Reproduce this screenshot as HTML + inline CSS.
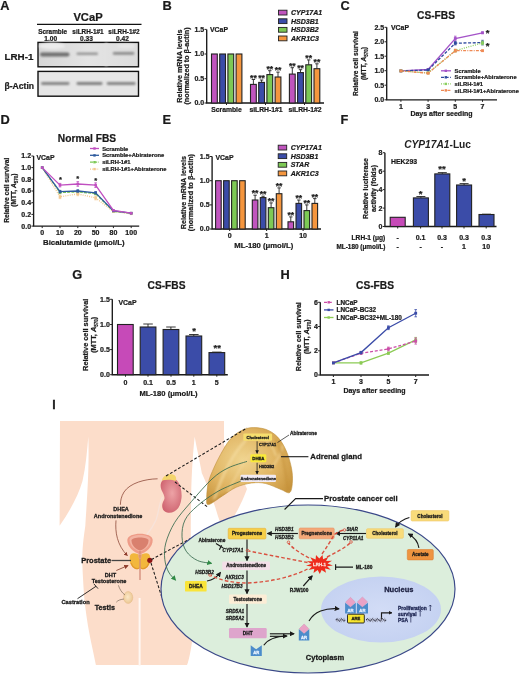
<!DOCTYPE html>
<html><head><meta charset="utf-8"><title>Figure</title>
<style>
html,body{margin:0;padding:0;background:#fff;}
svg{display:block;}
text{font-family:"Liberation Sans",Arial,sans-serif;}
</style></head><body>
<svg width="520" height="678" viewBox="0 0 520 678">
<rect width="520" height="678" fill="#fff"/>
<text x="0.3" y="9.6" font-size="12.8" text-anchor="start" font-weight="bold" fill="#1a1a1a" stroke="#1a1a1a" stroke-width="0.22">A</text><text x="88.0" y="21.3" font-size="11.2" text-anchor="middle" font-weight="bold" fill="#1a1a1a" stroke="#1a1a1a" stroke-width="0.22">VCaP</text><path d="M37,24.3 H141.5" stroke="#111" stroke-width="1.3"/><text x="52.7" y="34.0" font-size="6.4" text-anchor="middle" font-weight="bold" fill="#1a1a1a" stroke="#1a1a1a" stroke-width="0.22">Scramble</text><text x="50.7" y="40.9" font-size="6.6" text-anchor="middle" font-weight="bold" fill="#1a1a1a" stroke="#1a1a1a" stroke-width="0.22">1.00</text><text x="88.0" y="34.0" font-size="6.4" text-anchor="middle" font-weight="bold" fill="#1a1a1a" stroke="#1a1a1a" stroke-width="0.22">siLRH-1#1</text><text x="86.5" y="40.9" font-size="6.6" text-anchor="middle" font-weight="bold" fill="#1a1a1a" stroke="#1a1a1a" stroke-width="0.22">0.33</text><text x="124.0" y="34.0" font-size="6.4" text-anchor="middle" font-weight="bold" fill="#1a1a1a" stroke="#1a1a1a" stroke-width="0.22">siLRH-1#2</text><text x="122.5" y="40.9" font-size="6.6" text-anchor="middle" font-weight="bold" fill="#1a1a1a" stroke="#1a1a1a" stroke-width="0.22">0.42</text><defs><linearGradient id="bl1" x1="0" x2="1" y1="0" y2="0"><stop offset="0" stop-color="#d6d6d6"/><stop offset="0.5" stop-color="#e4e4e4"/><stop offset="1" stop-color="#dcdcdc"/></linearGradient><filter id="blur1" x="-10%" y="-50%" width="120%" height="200%"><feGaussianBlur stdDeviation="0.85"/></filter></defs><rect x="38" y="42.4" width="100.5" height="24.4" fill="url(#bl1)" stroke="#111" stroke-width="1.4"/><rect x="38" y="71.4" width="100.5" height="24.8" fill="#e5e5e5" stroke="#111" stroke-width="1.4"/><g filter="url(#blur1)"><rect x="40" y="52.6" width="29.5" height="3.8" rx="1.8" fill="#6e6e6e"/><rect x="76.5" y="52.4" width="21.5" height="2.6" rx="1.2" fill="#959595"/><rect x="112.8" y="51.9" width="21.5" height="2.8" rx="1.3" fill="#8a8a8a"/><rect x="41" y="82" width="28.5" height="3" rx="1.4" fill="#858585"/><rect x="76.5" y="82" width="26" height="3" rx="1.4" fill="#808080"/><rect x="106.7" y="82" width="29" height="3" rx="1.4" fill="#858585"/><ellipse cx="52" cy="46" rx="13" ry="3.2" fill="#ececec"/><ellipse cx="126" cy="46" rx="9" ry="2" fill="#e8e8e8"/><rect x="105" y="43" width="2.5" height="23" fill="#e2e2e2"/></g><text x="4.5" y="59.5" font-size="9.8" text-anchor="start" font-weight="bold" fill="#1a1a1a" stroke="#1a1a1a" stroke-width="0.22">LRH-1</text><text x="4.5" y="88.5" font-size="8.6" text-anchor="start" font-weight="bold" fill="#1a1a1a" stroke="#1a1a1a" stroke-width="0.22">β-Actin</text>
<text x="162.6" y="9.7" font-size="12.8" text-anchor="start" font-weight="bold" fill="#1a1a1a" stroke="#1a1a1a" stroke-width="0.22">B</text><path d="M206.7,29.4 V103 H324" fill="none" stroke="#1a1a1a" stroke-width="1.35"/><path d="M204.5,29.4 H206.7" stroke="#222" stroke-width="1"/><text x="204.2" y="31.8" font-size="7" text-anchor="end" font-weight="bold" fill="#1a1a1a" stroke="#1a1a1a" stroke-width="0.22">1.5</text><path d="M204.5,54.0 H206.7" stroke="#222" stroke-width="1"/><text x="204.2" y="56.4" font-size="7" text-anchor="end" font-weight="bold" fill="#1a1a1a" stroke="#1a1a1a" stroke-width="0.22">1.0</text><path d="M204.5,78.7 H206.7" stroke="#222" stroke-width="1"/><text x="204.2" y="81.1" font-size="7" text-anchor="end" font-weight="bold" fill="#1a1a1a" stroke="#1a1a1a" stroke-width="0.22">0.5</text><path d="M204.5,103.0 H206.7" stroke="#222" stroke-width="1"/><text x="204.2" y="105.4" font-size="7" text-anchor="end" font-weight="bold" fill="#1a1a1a" stroke="#1a1a1a" stroke-width="0.22">0.0</text><text transform="translate(182.0,66.0) rotate(-90)" font-size="7.2" text-anchor="middle" font-weight="bold" fill="#1a1a1a" stroke="#1a1a1a" stroke-width="0.22">Relative mRNA levels</text><text transform="translate(189.0,66.0) rotate(-90)" font-size="7.2" text-anchor="middle" font-weight="bold" fill="#1a1a1a" stroke="#1a1a1a" stroke-width="0.22">(normalized to β-actin)</text><text x="210.0" y="32.0" font-size="6.9" text-anchor="start" font-weight="bold" fill="#1a1a1a" stroke="#1a1a1a" stroke-width="0.22">VCaP</text><rect x="211.5" y="54.0" width="5.8" height="49.0" fill="#C055BE" stroke="#222" stroke-width="1.1"/><rect x="219.7" y="54.0" width="5.8" height="49.0" fill="#3B4CA8" stroke="#222" stroke-width="1.1"/><rect x="227.9" y="54.0" width="5.8" height="49.0" fill="#7DC955" stroke="#222" stroke-width="1.1"/><rect x="236.1" y="54.0" width="5.8" height="49.0" fill="#F5963E" stroke="#222" stroke-width="1.1"/><path d="M253.4,84.4 V79.5 M251.7,79.5 H255.1" stroke="#222" stroke-width="0.9" fill="none"/><rect x="250.5" y="84.4" width="5.8" height="18.6" fill="#C055BE" stroke="#222" stroke-width="1.1"/><text x="253.4" y="80.5" font-size="8.6" text-anchor="middle" font-weight="bold" fill="#1a1a1a" stroke="#1a1a1a" stroke-width="0.22">**</text><path d="M261.6,82.4 V80.0 M259.9,80.0 H263.3" stroke="#222" stroke-width="0.9" fill="none"/><rect x="258.7" y="82.4" width="5.8" height="20.6" fill="#3B4CA8" stroke="#222" stroke-width="1.1"/><text x="261.6" y="81.0" font-size="8.6" text-anchor="middle" font-weight="bold" fill="#1a1a1a" stroke="#1a1a1a" stroke-width="0.22">**</text><path d="M269.8,74.6 V70.7 M268.1,70.7 H271.5" stroke="#222" stroke-width="0.9" fill="none"/><rect x="266.9" y="74.6" width="5.8" height="28.4" fill="#7DC955" stroke="#222" stroke-width="1.1"/><text x="269.8" y="71.7" font-size="8.6" text-anchor="middle" font-weight="bold" fill="#1a1a1a" stroke="#1a1a1a" stroke-width="0.22">**</text><path d="M278.0,77.0 V72.1 M276.3,72.1 H279.7" stroke="#222" stroke-width="0.9" fill="none"/><rect x="275.1" y="77.0" width="5.8" height="26.0" fill="#F5963E" stroke="#222" stroke-width="1.1"/><text x="278.0" y="73.1" font-size="8.6" text-anchor="middle" font-weight="bold" fill="#1a1a1a" stroke="#1a1a1a" stroke-width="0.22">**</text><path d="M292.3,74.1 V67.7 M290.6,67.7 H294.0" stroke="#222" stroke-width="0.9" fill="none"/><rect x="289.4" y="74.1" width="5.8" height="28.9" fill="#C055BE" stroke="#222" stroke-width="1.1"/><text x="292.3" y="68.7" font-size="8.6" text-anchor="middle" font-weight="bold" fill="#1a1a1a" stroke="#1a1a1a" stroke-width="0.22">**</text><path d="M300.5,72.6 V69.7 M298.8,69.7 H302.2" stroke="#222" stroke-width="0.9" fill="none"/><rect x="297.6" y="72.6" width="5.8" height="30.4" fill="#3B4CA8" stroke="#222" stroke-width="1.1"/><text x="300.5" y="70.7" font-size="8.6" text-anchor="middle" font-weight="bold" fill="#1a1a1a" stroke="#1a1a1a" stroke-width="0.22">**</text><path d="M308.7,64.8 V59.9 M307.0,59.9 H310.4" stroke="#222" stroke-width="0.9" fill="none"/><rect x="305.8" y="64.8" width="5.8" height="38.2" fill="#7DC955" stroke="#222" stroke-width="1.1"/><text x="308.7" y="60.9" font-size="8.6" text-anchor="middle" font-weight="bold" fill="#1a1a1a" stroke="#1a1a1a" stroke-width="0.22">**</text><path d="M316.9,68.7 V63.8 M315.2,63.8 H318.6" stroke="#222" stroke-width="0.9" fill="none"/><rect x="314.0" y="68.7" width="5.8" height="34.3" fill="#F5963E" stroke="#222" stroke-width="1.1"/><text x="316.9" y="64.8" font-size="8.6" text-anchor="middle" font-weight="bold" fill="#1a1a1a" stroke="#1a1a1a" stroke-width="0.22">**</text><path d="M226.5,103 V105" stroke="#222" stroke-width="1"/><path d="M265.5,103 V105" stroke="#222" stroke-width="1"/><path d="M304.5,103 V105" stroke="#222" stroke-width="1"/><text x="226.5" y="111.5" font-size="6.8" text-anchor="middle" font-weight="bold" fill="#1a1a1a" stroke="#1a1a1a" stroke-width="0.22">Scramble</text><text x="266.0" y="111.5" font-size="6.8" text-anchor="middle" font-weight="bold" fill="#1a1a1a" stroke="#1a1a1a" stroke-width="0.22">siLRH-1#1</text><text x="305.0" y="111.5" font-size="6.8" text-anchor="middle" font-weight="bold" fill="#1a1a1a" stroke="#1a1a1a" stroke-width="0.22">siLRH-1#2</text><rect x="278.5" y="10.2" width="8.5" height="4.8" fill="#C055BE" stroke="#222" stroke-width="0.9"/><text x="291.0" y="15.1" font-size="7" text-anchor="start" font-weight="bold" font-style="italic" fill="#1a1a1a" stroke="#1a1a1a" stroke-width="0.22">CYP17A1</text><rect x="278.5" y="18.8" width="8.5" height="4.8" fill="#3B4CA8" stroke="#222" stroke-width="0.9"/><text x="291.0" y="23.7" font-size="7" text-anchor="start" font-weight="bold" font-style="italic" fill="#1a1a1a" stroke="#1a1a1a" stroke-width="0.22">HSD3B1</text><rect x="278.5" y="27.4" width="8.5" height="4.8" fill="#7DC955" stroke="#222" stroke-width="0.9"/><text x="291.0" y="32.3" font-size="7" text-anchor="start" font-weight="bold" font-style="italic" fill="#1a1a1a" stroke="#1a1a1a" stroke-width="0.22">HSD3B2</text><rect x="278.5" y="36.0" width="8.5" height="4.8" fill="#F5963E" stroke="#222" stroke-width="0.9"/><text x="291.0" y="40.9" font-size="7" text-anchor="start" font-weight="bold" font-style="italic" fill="#1a1a1a" stroke="#1a1a1a" stroke-width="0.22">AKR1C3</text>
<text x="340.6" y="9.7" font-size="12.8" text-anchor="start" font-weight="bold" fill="#1a1a1a" stroke="#1a1a1a" stroke-width="0.22">C</text><text x="436.0" y="18.5" font-size="10.2" text-anchor="middle" font-weight="bold" fill="#1a1a1a" stroke="#1a1a1a" stroke-width="0.22">CS-FBS</text><path d="M386.7,27.3 V99.8 H497" fill="none" stroke="#1a1a1a" stroke-width="1.35"/><path d="M384.5,27.3 H386.7" stroke="#222" stroke-width="1"/><text x="384.2" y="29.7" font-size="7" text-anchor="end" font-weight="bold" fill="#1a1a1a" stroke="#1a1a1a" stroke-width="0.22">2.5</text><path d="M384.5,41.8 H386.7" stroke="#222" stroke-width="1"/><text x="384.2" y="44.2" font-size="7" text-anchor="end" font-weight="bold" fill="#1a1a1a" stroke="#1a1a1a" stroke-width="0.22">2.0</text><path d="M384.5,56.2 H386.7" stroke="#222" stroke-width="1"/><text x="384.2" y="58.6" font-size="7" text-anchor="end" font-weight="bold" fill="#1a1a1a" stroke="#1a1a1a" stroke-width="0.22">1.5</text><path d="M384.5,70.7 H386.7" stroke="#222" stroke-width="1"/><text x="384.2" y="73.1" font-size="7" text-anchor="end" font-weight="bold" fill="#1a1a1a" stroke="#1a1a1a" stroke-width="0.22">1.0</text><path d="M384.5,85.2 H386.7" stroke="#222" stroke-width="1"/><text x="384.2" y="87.6" font-size="7" text-anchor="end" font-weight="bold" fill="#1a1a1a" stroke="#1a1a1a" stroke-width="0.22">0.5</text><path d="M384.5,99.8 H386.7" stroke="#222" stroke-width="1"/><text x="384.2" y="102.2" font-size="7" text-anchor="end" font-weight="bold" fill="#1a1a1a" stroke="#1a1a1a" stroke-width="0.22">0.0</text><text transform="translate(358.0,63.5) rotate(-90)" font-size="6.6" text-anchor="middle" font-weight="bold" fill="#1a1a1a" stroke="#1a1a1a" stroke-width="0.22">Relative cell survival</text><text transform="translate(366.2,63.5) rotate(-90)" font-size="6.6" text-anchor="middle" font-weight="bold" fill="#1a1a1a" stroke="#1a1a1a" stroke-width="0.22">(MTT, <tspan font-style="italic">A</tspan><tspan font-size="4.5" dy="1.5">570</tspan><tspan dy="-1.5">)</tspan></text><text x="391.0" y="30.0" font-size="6.9" text-anchor="start" font-weight="bold" fill="#1a1a1a" stroke="#1a1a1a" stroke-width="0.22">VCaP</text><path d="M400.9,99.8 V101.8" stroke="#222" stroke-width="1"/><text x="400.9" y="108.8" font-size="7" text-anchor="middle" font-weight="bold" fill="#1a1a1a" stroke="#1a1a1a" stroke-width="0.22">1</text><path d="M428.1,99.8 V101.8" stroke="#222" stroke-width="1"/><text x="428.1" y="108.8" font-size="7" text-anchor="middle" font-weight="bold" fill="#1a1a1a" stroke="#1a1a1a" stroke-width="0.22">3</text><path d="M455.3,99.8 V101.8" stroke="#222" stroke-width="1"/><text x="455.3" y="108.8" font-size="7" text-anchor="middle" font-weight="bold" fill="#1a1a1a" stroke="#1a1a1a" stroke-width="0.22">5</text><path d="M482.5,99.8 V101.8" stroke="#222" stroke-width="1"/><text x="482.5" y="108.8" font-size="7" text-anchor="middle" font-weight="bold" fill="#1a1a1a" stroke="#1a1a1a" stroke-width="0.22">7</text><text x="441.5" y="115.5" font-size="7" text-anchor="middle" font-weight="bold" fill="#1a1a1a" stroke="#1a1a1a" stroke-width="0.22">Days after seeding</text><polyline points="400.9,70.9 428.1,69.5 455.3,38.5 482.5,32.8" fill="none" stroke="#A453C8" stroke-width="1.3"/><rect x="399.5" y="69.5" width="2.8" height="2.8" fill="#A453C8"/><rect x="426.7" y="68.1" width="2.8" height="2.8" fill="#A453C8"/><path d="M428.1,68.6 V70.3 M426.8,68.6 h2.6 M426.8,70.3 h2.6" stroke="#A453C8" stroke-width="0.8"/><rect x="453.9" y="37.1" width="2.8" height="2.8" fill="#A453C8"/><path d="M455.3,36.2 V40.8 M454.0,36.2 h2.6 M454.0,40.8 h2.6" stroke="#A453C8" stroke-width="0.8"/><rect x="481.1" y="31.4" width="2.8" height="2.8" fill="#A453C8"/><path d="M482.5,31.9 V33.6 M481.2,31.9 h2.6 M481.2,33.6 h2.6" stroke="#A453C8" stroke-width="0.8"/><polyline points="400.9,70.9 428.1,70.0 455.3,43.2 482.5,42.6" fill="none" stroke="#2E4A9E" stroke-width="1.3" stroke-dasharray="3,1.6"/><rect x="399.5" y="69.5" width="2.8" height="2.8" fill="#2E4A9E"/><rect x="426.7" y="68.6" width="2.8" height="2.8" fill="#2E4A9E"/><path d="M428.1,69.5 V70.6 M426.8,69.5 h2.6 M426.8,70.6 h2.6" stroke="#2E4A9E" stroke-width="0.8"/><rect x="453.9" y="41.8" width="2.8" height="2.8" fill="#2E4A9E"/><path d="M455.3,41.4 V44.9 M454.0,41.4 h2.6 M454.0,44.9 h2.6" stroke="#2E4A9E" stroke-width="0.8"/><rect x="481.1" y="41.2" width="2.8" height="2.8" fill="#2E4A9E"/><path d="M482.5,40.3 V44.9 M481.2,40.3 h2.6 M481.2,44.9 h2.6" stroke="#2E4A9E" stroke-width="0.8"/><polyline points="400.9,70.9 428.1,72.9 455.3,50.7 482.5,42.9" fill="none" stroke="#8CD060" stroke-width="1.3" stroke-dasharray="1,1.3"/><rect x="399.5" y="69.5" width="2.8" height="2.8" fill="#8CD060"/><rect x="426.7" y="71.5" width="2.8" height="2.8" fill="#8CD060"/><path d="M428.1,72.3 V73.5 M426.8,72.3 h2.6 M426.8,73.5 h2.6" stroke="#8CD060" stroke-width="0.8"/><rect x="453.9" y="49.3" width="2.8" height="2.8" fill="#8CD060"/><path d="M455.3,49.5 V51.8 M454.0,49.5 h2.6 M454.0,51.8 h2.6" stroke="#8CD060" stroke-width="0.8"/><rect x="481.1" y="41.5" width="2.8" height="2.8" fill="#8CD060"/><path d="M482.5,41.1 V44.6 M481.2,41.1 h2.6 M481.2,44.6 h2.6" stroke="#8CD060" stroke-width="0.8"/><polyline points="400.9,70.9 428.1,73.2 455.3,50.7 482.5,50.7" fill="none" stroke="#EF8A55" stroke-width="1.3" stroke-dasharray="3,1.2,1,1.2"/><rect x="399.5" y="69.5" width="2.8" height="2.8" fill="#EF8A55"/><rect x="426.7" y="71.8" width="2.8" height="2.8" fill="#EF8A55"/><path d="M428.1,72.6 V73.8 M426.8,72.6 h2.6 M426.8,73.8 h2.6" stroke="#EF8A55" stroke-width="0.8"/><rect x="453.9" y="49.3" width="2.8" height="2.8" fill="#EF8A55"/><path d="M455.3,49.2 V52.1 M454.0,49.2 h2.6 M454.0,52.1 h2.6" stroke="#EF8A55" stroke-width="0.8"/><rect x="481.1" y="49.3" width="2.8" height="2.8" fill="#EF8A55"/><path d="M482.5,50.1 V51.2 M481.2,50.1 h2.6 M481.2,51.2 h2.6" stroke="#EF8A55" stroke-width="0.8"/><text x="487.6" y="35.9" font-size="9.5" text-anchor="middle" font-weight="bold" fill="#1a1a1a" stroke="#1a1a1a" stroke-width="0.22">*</text><text x="487.6" y="48.8" font-size="9.5" text-anchor="middle" font-weight="bold" fill="#1a1a1a" stroke="#1a1a1a" stroke-width="0.22">*</text><path d="M441,70.8 H451" stroke="#A453C8" stroke-width="1.3"/><rect x="444.6" y="69.6" width="2.4" height="2.4" fill="#A453C8"/><text x="454.6" y="72.9" font-size="5.8" text-anchor="start" font-weight="bold" fill="#1a1a1a" stroke="#1a1a1a" stroke-width="0.22">Scramble</text><path d="M441,77.3 H451" stroke="#2E4A9E" stroke-width="1.3" stroke-dasharray="3,1.6"/><rect x="444.6" y="76.1" width="2.4" height="2.4" fill="#2E4A9E"/><text x="454.6" y="79.4" font-size="5.8" text-anchor="start" font-weight="bold" fill="#1a1a1a" stroke="#1a1a1a" stroke-width="0.22">Scramble+Abiraterone</text><path d="M441,83.9 H451" stroke="#8CD060" stroke-width="1.3" stroke-dasharray="1,1.3"/><rect x="444.6" y="82.7" width="2.4" height="2.4" fill="#8CD060"/><text x="454.6" y="86.0" font-size="5.8" text-anchor="start" font-weight="bold" fill="#1a1a1a" stroke="#1a1a1a" stroke-width="0.22">siLRH-1#1</text><path d="M441,90.4 H451" stroke="#EF8A55" stroke-width="1.3" stroke-dasharray="3,1.2,1,1.2"/><rect x="444.6" y="89.2" width="2.4" height="2.4" fill="#EF8A55"/><text x="454.6" y="92.5" font-size="5.8" text-anchor="start" font-weight="bold" fill="#1a1a1a" stroke="#1a1a1a" stroke-width="0.22">siLRH-1#1+Abiraterone</text>
<text x="0.6" y="124.4" font-size="12.8" text-anchor="start" font-weight="bold" fill="#1a1a1a" stroke="#1a1a1a" stroke-width="0.22">D</text><text x="87.0" y="142.0" font-size="10.2" text-anchor="middle" font-weight="bold" fill="#1a1a1a" stroke="#1a1a1a" stroke-width="0.22">Normal FBS</text><path d="M33.6,156 V226.1 H139.2" fill="none" stroke="#1a1a1a" stroke-width="1.35"/><path d="M31.400000000000002,156.0 H33.6" stroke="#222" stroke-width="1"/><text x="31.1" y="158.4" font-size="7" text-anchor="end" font-weight="bold" fill="#1a1a1a" stroke="#1a1a1a" stroke-width="0.22">1.2</text><path d="M31.400000000000002,167.6 H33.6" stroke="#222" stroke-width="1"/><text x="31.1" y="170.0" font-size="7" text-anchor="end" font-weight="bold" fill="#1a1a1a" stroke="#1a1a1a" stroke-width="0.22">1.0</text><path d="M31.400000000000002,179.3 H33.6" stroke="#222" stroke-width="1"/><text x="31.1" y="181.7" font-size="7" text-anchor="end" font-weight="bold" fill="#1a1a1a" stroke="#1a1a1a" stroke-width="0.22">0.8</text><path d="M31.400000000000002,191.0 H33.6" stroke="#222" stroke-width="1"/><text x="31.1" y="193.4" font-size="7" text-anchor="end" font-weight="bold" fill="#1a1a1a" stroke="#1a1a1a" stroke-width="0.22">0.6</text><path d="M31.400000000000002,202.7 H33.6" stroke="#222" stroke-width="1"/><text x="31.1" y="205.1" font-size="7" text-anchor="end" font-weight="bold" fill="#1a1a1a" stroke="#1a1a1a" stroke-width="0.22">0.4</text><path d="M31.400000000000002,214.4 H33.6" stroke="#222" stroke-width="1"/><text x="31.1" y="216.8" font-size="7" text-anchor="end" font-weight="bold" fill="#1a1a1a" stroke="#1a1a1a" stroke-width="0.22">0.2</text><path d="M31.400000000000002,226.1 H33.6" stroke="#222" stroke-width="1"/><text x="31.1" y="228.5" font-size="7" text-anchor="end" font-weight="bold" fill="#1a1a1a" stroke="#1a1a1a" stroke-width="0.22">0.0</text><text transform="translate(8.7,190.2) rotate(-90)" font-size="6.6" text-anchor="middle" font-weight="bold" fill="#1a1a1a" stroke="#1a1a1a" stroke-width="0.22">Relative cell survival</text><text transform="translate(16.2,190.2) rotate(-90)" font-size="6.6" text-anchor="middle" font-weight="bold" fill="#1a1a1a" stroke="#1a1a1a" stroke-width="0.22">(MTT, <tspan font-style="italic">A</tspan><tspan font-size="4.5" dy="1.5">570</tspan><tspan dy="-1.5">)</tspan></text><text x="36.5" y="160.0" font-size="6.9" text-anchor="start" font-weight="bold" fill="#1a1a1a" stroke="#1a1a1a" stroke-width="0.22">VCaP</text><path d="M42.2,226.1 V228.1" stroke="#222" stroke-width="1"/><text x="42.2" y="235.2" font-size="7" text-anchor="middle" font-weight="bold" fill="#1a1a1a" stroke="#1a1a1a" stroke-width="0.22">0</text><path d="M60.0,226.1 V228.1" stroke="#222" stroke-width="1"/><text x="60.0" y="235.2" font-size="7" text-anchor="middle" font-weight="bold" fill="#1a1a1a" stroke="#1a1a1a" stroke-width="0.22">10</text><path d="M77.8,226.1 V228.1" stroke="#222" stroke-width="1"/><text x="77.8" y="235.2" font-size="7" text-anchor="middle" font-weight="bold" fill="#1a1a1a" stroke="#1a1a1a" stroke-width="0.22">20</text><path d="M95.6,226.1 V228.1" stroke="#222" stroke-width="1"/><text x="95.6" y="235.2" font-size="7" text-anchor="middle" font-weight="bold" fill="#1a1a1a" stroke="#1a1a1a" stroke-width="0.22">50</text><path d="M113.4,226.1 V228.1" stroke="#222" stroke-width="1"/><text x="113.4" y="235.2" font-size="7" text-anchor="middle" font-weight="bold" fill="#1a1a1a" stroke="#1a1a1a" stroke-width="0.22">80</text><path d="M131.2,226.1 V228.1" stroke="#222" stroke-width="1"/><text x="131.2" y="235.2" font-size="7" text-anchor="middle" font-weight="bold" fill="#1a1a1a" stroke="#1a1a1a" stroke-width="0.22">100</text><text x="83.8" y="245.2" font-size="7.8" text-anchor="middle" font-weight="bold" fill="#1a1a1a" stroke="#1a1a1a" stroke-width="0.22">Bicalutamide (μmol/L)</text><polyline points="42.2,167.6 60.0,192.5 77.8,191.9 95.6,193.6 113.4,211.5 131.2,213.2" fill="none" stroke="#7DC955" stroke-width="1.3" stroke-dasharray="3,1.2"/><rect x="40.9" y="166.3" width="2.6" height="2.6" fill="#7DC955"/><rect x="58.7" y="191.2" width="2.6" height="2.6" fill="#7DC955"/><path d="M60.0,191.3 V193.6 M58.7,191.3 h2.6 M58.7,193.6 h2.6" stroke="#7DC955" stroke-width="0.8"/><rect x="76.5" y="190.6" width="2.6" height="2.6" fill="#7DC955"/><path d="M77.8,190.7 V193.0 M76.5,190.7 h2.6 M76.5,193.0 h2.6" stroke="#7DC955" stroke-width="0.8"/><rect x="94.3" y="192.3" width="2.6" height="2.6" fill="#7DC955"/><path d="M95.6,192.5 V194.8 M94.3,192.5 h2.6 M94.3,194.8 h2.6" stroke="#7DC955" stroke-width="0.8"/><rect x="112.1" y="210.2" width="2.6" height="2.6" fill="#7DC955"/><rect x="129.9" y="211.9" width="2.6" height="2.6" fill="#7DC955"/><polyline points="42.2,167.6 60.0,196.8 77.8,193.9 95.6,198.0 113.4,211.5 131.2,213.8" fill="none" stroke="#F2C890" stroke-width="1.3" stroke-dasharray="1,1.2"/><rect x="40.9" y="166.3" width="2.6" height="2.6" fill="#F2C890"/><rect x="58.7" y="195.5" width="2.6" height="2.6" fill="#F2C890"/><path d="M60.0,195.1 V198.6 M58.7,195.1 h2.6 M58.7,198.6 h2.6" stroke="#F2C890" stroke-width="0.8"/><rect x="76.5" y="192.6" width="2.6" height="2.6" fill="#F2C890"/><path d="M77.8,192.2 V195.7 M76.5,192.2 h2.6 M76.5,195.7 h2.6" stroke="#F2C890" stroke-width="0.8"/><rect x="94.3" y="196.7" width="2.6" height="2.6" fill="#F2C890"/><path d="M95.6,196.3 V199.8 M94.3,196.3 h2.6 M94.3,199.8 h2.6" stroke="#F2C890" stroke-width="0.8"/><rect x="112.1" y="210.2" width="2.6" height="2.6" fill="#F2C890"/><rect x="129.9" y="212.5" width="2.6" height="2.6" fill="#F2C890"/><polyline points="42.2,167.6 60.0,191.6 77.8,191.0 95.6,192.8 113.4,210.9 131.2,213.2" fill="none" stroke="#2E5B9E" stroke-width="1.3"/><rect x="40.9" y="166.3" width="2.6" height="2.6" fill="#2E5B9E"/><rect x="58.7" y="190.3" width="2.6" height="2.6" fill="#2E5B9E"/><path d="M60.0,190.4 V192.8 M58.7,190.4 h2.6 M58.7,192.8 h2.6" stroke="#2E5B9E" stroke-width="0.8"/><rect x="76.5" y="189.7" width="2.6" height="2.6" fill="#2E5B9E"/><path d="M77.8,189.8 V192.2 M76.5,189.8 h2.6 M76.5,192.2 h2.6" stroke="#2E5B9E" stroke-width="0.8"/><rect x="94.3" y="191.5" width="2.6" height="2.6" fill="#2E5B9E"/><path d="M95.6,191.6 V193.9 M94.3,191.6 h2.6 M94.3,193.9 h2.6" stroke="#2E5B9E" stroke-width="0.8"/><rect x="112.1" y="209.6" width="2.6" height="2.6" fill="#2E5B9E"/><rect x="129.9" y="211.9" width="2.6" height="2.6" fill="#2E5B9E"/><polyline points="42.2,167.6 60.0,185.2 77.8,184.0 95.6,185.2 113.4,210.3 131.2,213.2" fill="none" stroke="#C04FC0" stroke-width="1.3"/><rect x="40.9" y="166.3" width="2.6" height="2.6" fill="#C04FC0"/><rect x="58.7" y="183.8" width="2.6" height="2.6" fill="#C04FC0"/><path d="M60.0,183.4 V186.9 M58.7,183.4 h2.6 M58.7,186.9 h2.6" stroke="#C04FC0" stroke-width="0.8"/><rect x="76.5" y="182.7" width="2.6" height="2.6" fill="#C04FC0"/><path d="M77.8,181.6 V186.3 M76.5,181.6 h2.6 M76.5,186.3 h2.6" stroke="#C04FC0" stroke-width="0.8"/><rect x="94.3" y="183.8" width="2.6" height="2.6" fill="#C04FC0"/><path d="M95.6,182.8 V187.5 M94.3,182.8 h2.6 M94.3,187.5 h2.6" stroke="#C04FC0" stroke-width="0.8"/><rect x="112.1" y="209.0" width="2.6" height="2.6" fill="#C04FC0"/><rect x="129.9" y="211.9" width="2.6" height="2.6" fill="#C04FC0"/><text x="60.5" y="181.8" font-size="7.5" text-anchor="middle" font-weight="bold" fill="#1a1a1a" stroke="#1a1a1a" stroke-width="0.22">*</text><text x="77.7" y="180.6" font-size="7.5" text-anchor="middle" font-weight="bold" fill="#1a1a1a" stroke="#1a1a1a" stroke-width="0.22">*</text><text x="95.6" y="182.5" font-size="7.5" text-anchor="middle" font-weight="bold" fill="#1a1a1a" stroke="#1a1a1a" stroke-width="0.22">*</text><path d="M90,148.5 H99" stroke="#C04FC0" stroke-width="1.3"/><rect x="93.3" y="147.3" width="2.4" height="2.4" fill="#C04FC0"/><text x="102.2" y="150.6" font-size="5.8" text-anchor="start" font-weight="bold" fill="#1a1a1a" stroke="#1a1a1a" stroke-width="0.22">Scramble</text><path d="M90,155.3 H99" stroke="#2E5B9E" stroke-width="1.3"/><rect x="93.3" y="154.2" width="2.4" height="2.4" fill="#2E5B9E"/><text x="102.2" y="157.4" font-size="5.8" text-anchor="start" font-weight="bold" fill="#1a1a1a" stroke="#1a1a1a" stroke-width="0.22">Scramble+Abiraterone</text><path d="M90,162.2 H99" stroke="#7DC955" stroke-width="1.3" stroke-dasharray="3,1.2"/><rect x="93.3" y="161.0" width="2.4" height="2.4" fill="#7DC955"/><text x="102.2" y="164.3" font-size="5.8" text-anchor="start" font-weight="bold" fill="#1a1a1a" stroke="#1a1a1a" stroke-width="0.22">siLRH-1#1</text><path d="M90,169.1 H99" stroke="#F2C890" stroke-width="1.3" stroke-dasharray="1,1.2"/><rect x="93.3" y="167.9" width="2.4" height="2.4" fill="#F2C890"/><text x="102.2" y="171.2" font-size="5.8" text-anchor="start" font-weight="bold" fill="#1a1a1a" stroke="#1a1a1a" stroke-width="0.22">siLRH-1#1+Abiraterone</text>
<text x="162.6" y="124.4" font-size="12.8" text-anchor="start" font-weight="bold" fill="#1a1a1a" stroke="#1a1a1a" stroke-width="0.22">E</text><path d="M212.1,156.5 V229 H321" fill="none" stroke="#1a1a1a" stroke-width="1.35"/><path d="M209.9,156.5 H212.1" stroke="#222" stroke-width="1"/><text x="209.6" y="158.9" font-size="7" text-anchor="end" font-weight="bold" fill="#1a1a1a" stroke="#1a1a1a" stroke-width="0.22">1.5</text><path d="M209.9,180.7 H212.1" stroke="#222" stroke-width="1"/><text x="209.6" y="183.1" font-size="7" text-anchor="end" font-weight="bold" fill="#1a1a1a" stroke="#1a1a1a" stroke-width="0.22">1.0</text><path d="M209.9,204.9 H212.1" stroke="#222" stroke-width="1"/><text x="209.6" y="207.3" font-size="7" text-anchor="end" font-weight="bold" fill="#1a1a1a" stroke="#1a1a1a" stroke-width="0.22">0.5</text><path d="M209.9,229.0 H212.1" stroke="#222" stroke-width="1"/><text x="209.6" y="231.4" font-size="7" text-anchor="end" font-weight="bold" fill="#1a1a1a" stroke="#1a1a1a" stroke-width="0.22">0.0</text><text transform="translate(186.0,192.6) rotate(-90)" font-size="7.2" text-anchor="middle" font-weight="bold" fill="#1a1a1a" stroke="#1a1a1a" stroke-width="0.22">Relative mRNA levels</text><text transform="translate(193.0,192.6) rotate(-90)" font-size="7.2" text-anchor="middle" font-weight="bold" fill="#1a1a1a" stroke="#1a1a1a" stroke-width="0.22">(normalized to β-actin)</text><text x="215.5" y="160.0" font-size="6.9" text-anchor="start" font-weight="bold" fill="#1a1a1a" stroke="#1a1a1a" stroke-width="0.22">VCaP</text><rect x="215.6" y="180.7" width="5.6" height="48.3" fill="#C055BE" stroke="#222" stroke-width="1.1"/><rect x="223.6" y="180.7" width="5.6" height="48.3" fill="#3B4CA8" stroke="#222" stroke-width="1.1"/><rect x="231.6" y="180.7" width="5.6" height="48.3" fill="#7DC955" stroke="#222" stroke-width="1.1"/><rect x="239.6" y="180.7" width="5.6" height="48.3" fill="#F5963E" stroke="#222" stroke-width="1.1"/><path d="M255.1,200.0 V195.2 M253.4,195.2 H256.8" stroke="#222" stroke-width="0.9" fill="none"/><rect x="252.3" y="200.0" width="5.6" height="29.0" fill="#C055BE" stroke="#222" stroke-width="1.1"/><text x="255.1" y="196.2" font-size="8.6" text-anchor="middle" font-weight="bold" fill="#1a1a1a" stroke="#1a1a1a" stroke-width="0.22">**</text><path d="M263.1,197.6 V196.2 M261.4,196.2 H264.8" stroke="#222" stroke-width="0.9" fill="none"/><rect x="260.3" y="197.6" width="5.6" height="31.4" fill="#3B4CA8" stroke="#222" stroke-width="1.1"/><text x="263.1" y="197.2" font-size="8.6" text-anchor="middle" font-weight="bold" fill="#1a1a1a" stroke="#1a1a1a" stroke-width="0.22">**</text><path d="M271.1,207.7 V202.9 M269.4,202.9 H272.8" stroke="#222" stroke-width="0.9" fill="none"/><rect x="268.3" y="207.7" width="5.6" height="21.3" fill="#7DC955" stroke="#222" stroke-width="1.1"/><text x="271.1" y="203.9" font-size="8.6" text-anchor="middle" font-weight="bold" fill="#1a1a1a" stroke="#1a1a1a" stroke-width="0.22">**</text><path d="M279.1,193.7 V187.9 M277.4,187.9 H280.8" stroke="#222" stroke-width="0.9" fill="none"/><rect x="276.3" y="193.7" width="5.6" height="35.3" fill="#F5963E" stroke="#222" stroke-width="1.1"/><text x="279.1" y="189.0" font-size="8.6" text-anchor="middle" font-weight="bold" fill="#1a1a1a" stroke="#1a1a1a" stroke-width="0.22">**</text><path d="M290.8,221.8 V216.9 M289.1,216.9 H292.5" stroke="#222" stroke-width="0.9" fill="none"/><rect x="288.0" y="221.8" width="5.6" height="7.2" fill="#C055BE" stroke="#222" stroke-width="1.1"/><text x="290.8" y="217.9" font-size="8.6" text-anchor="middle" font-weight="bold" fill="#1a1a1a" stroke="#1a1a1a" stroke-width="0.22">**</text><path d="M298.8,203.4 V200.0 M297.1,200.0 H300.5" stroke="#222" stroke-width="0.9" fill="none"/><rect x="296.0" y="203.4" width="5.6" height="25.6" fill="#3B4CA8" stroke="#222" stroke-width="1.1"/><text x="298.8" y="201.0" font-size="8.6" text-anchor="middle" font-weight="bold" fill="#1a1a1a" stroke="#1a1a1a" stroke-width="0.22">**</text><path d="M306.8,210.6 V204.9 M305.1,204.9 H308.5" stroke="#222" stroke-width="0.9" fill="none"/><rect x="304.0" y="210.6" width="5.6" height="18.4" fill="#7DC955" stroke="#222" stroke-width="1.1"/><text x="306.8" y="205.9" font-size="8.6" text-anchor="middle" font-weight="bold" fill="#1a1a1a" stroke="#1a1a1a" stroke-width="0.22">**</text><path d="M314.8,203.4 V198.6 M313.1,198.6 H316.5" stroke="#222" stroke-width="0.9" fill="none"/><rect x="312.0" y="203.4" width="5.6" height="25.6" fill="#F5963E" stroke="#222" stroke-width="1.1"/><text x="314.8" y="199.6" font-size="8.6" text-anchor="middle" font-weight="bold" fill="#1a1a1a" stroke="#1a1a1a" stroke-width="0.22">**</text><path d="M229.7,229 V231" stroke="#222" stroke-width="1"/><text x="229.7" y="237.8" font-size="7" text-anchor="middle" font-weight="bold" fill="#1a1a1a" stroke="#1a1a1a" stroke-width="0.22">0</text><path d="M266.6,229 V231" stroke="#222" stroke-width="1"/><text x="266.6" y="237.8" font-size="7" text-anchor="middle" font-weight="bold" fill="#1a1a1a" stroke="#1a1a1a" stroke-width="0.22">1</text><path d="M303.1,229 V231" stroke="#222" stroke-width="1"/><text x="303.1" y="237.8" font-size="7" text-anchor="middle" font-weight="bold" fill="#1a1a1a" stroke="#1a1a1a" stroke-width="0.22">10</text><text x="263.8" y="247.8" font-size="7.7" text-anchor="middle" font-weight="bold" fill="#1a1a1a" stroke="#1a1a1a" stroke-width="0.22">ML-180 (μmol/L)</text><rect x="278.2" y="145.2" width="8.5" height="4.8" fill="#C055BE" stroke="#222" stroke-width="0.9"/><text x="290.7" y="150.1" font-size="7" text-anchor="start" font-weight="bold" font-style="italic" fill="#1a1a1a" stroke="#1a1a1a" stroke-width="0.22">CYP17A1</text><rect x="278.2" y="153.8" width="8.5" height="4.8" fill="#3B4CA8" stroke="#222" stroke-width="0.9"/><text x="290.7" y="158.7" font-size="7" text-anchor="start" font-weight="bold" font-style="italic" fill="#1a1a1a" stroke="#1a1a1a" stroke-width="0.22">HSD3B1</text><rect x="278.2" y="162.4" width="8.5" height="4.8" fill="#7DC955" stroke="#222" stroke-width="0.9"/><text x="290.7" y="167.3" font-size="7" text-anchor="start" font-weight="bold" font-style="italic" fill="#1a1a1a" stroke="#1a1a1a" stroke-width="0.22">STAR</text><rect x="278.2" y="171.0" width="8.5" height="4.8" fill="#F5963E" stroke="#222" stroke-width="0.9"/><text x="290.7" y="175.9" font-size="7" text-anchor="start" font-weight="bold" font-style="italic" fill="#1a1a1a" stroke="#1a1a1a" stroke-width="0.22">AKR1C3</text>
<text x="340.6" y="124.4" font-size="12.8" text-anchor="start" font-weight="bold" fill="#1a1a1a" stroke="#1a1a1a" stroke-width="0.22">F</text><text x="437.6" y="147.5" font-size="10.2" text-anchor="middle" font-weight="bold" fill="#222"><tspan font-style="italic">CYP17A1</tspan>-Luc</text><path d="M384.9,152.7 V226.5 H496.5" fill="none" stroke="#1a1a1a" stroke-width="1.35"/><path d="M382.7,152.7 H384.9" stroke="#222" stroke-width="1"/><text x="382.4" y="155.1" font-size="7" text-anchor="end" font-weight="bold" fill="#1a1a1a" stroke="#1a1a1a" stroke-width="0.22">8</text><path d="M382.7,171.2 H384.9" stroke="#222" stroke-width="1"/><text x="382.4" y="173.6" font-size="7" text-anchor="end" font-weight="bold" fill="#1a1a1a" stroke="#1a1a1a" stroke-width="0.22">6</text><path d="M382.7,189.6 H384.9" stroke="#222" stroke-width="1"/><text x="382.4" y="192.0" font-size="7" text-anchor="end" font-weight="bold" fill="#1a1a1a" stroke="#1a1a1a" stroke-width="0.22">4</text><path d="M382.7,208.1 H384.9" stroke="#222" stroke-width="1"/><text x="382.4" y="210.5" font-size="7" text-anchor="end" font-weight="bold" fill="#1a1a1a" stroke="#1a1a1a" stroke-width="0.22">2</text><path d="M382.7,226.5 H384.9" stroke="#222" stroke-width="1"/><text x="382.4" y="228.9" font-size="7" text-anchor="end" font-weight="bold" fill="#1a1a1a" stroke="#1a1a1a" stroke-width="0.22">0</text><text transform="translate(368.0,188.5) rotate(-90)" font-size="6.95" text-anchor="middle" font-weight="bold" fill="#1a1a1a" stroke="#1a1a1a" stroke-width="0.22">Relative luciferase</text><text transform="translate(375.5,188.5) rotate(-90)" font-size="6.95" text-anchor="middle" font-weight="bold" fill="#1a1a1a" stroke="#1a1a1a" stroke-width="0.22">activity (folds)</text><text x="391.0" y="163.5" font-size="6.9" text-anchor="start" font-weight="bold" fill="#1a1a1a" stroke="#1a1a1a" stroke-width="0.22">HEK293</text><rect x="390.2" y="217.3" width="15.0" height="9.2" fill="#C64AB8" stroke="#222" stroke-width="1.1"/><path d="M420.9,197.9 V196.5 M416.4,196.5 H425.4" stroke="#222" stroke-width="0.9" fill="none"/><rect x="413.4" y="197.9" width="15.0" height="28.6" fill="#3B4CA8" stroke="#222" stroke-width="1.1"/><path d="M442.3,173.9 V172.6 M437.8,172.6 H446.8" stroke="#222" stroke-width="0.9" fill="none"/><rect x="434.8" y="173.9" width="15.0" height="52.6" fill="#3B4CA8" stroke="#222" stroke-width="1.1"/><path d="M464.1,185.0 V183.6 M459.6,183.6 H468.6" stroke="#222" stroke-width="0.9" fill="none"/><rect x="456.6" y="185.0" width="15.0" height="41.5" fill="#3B4CA8" stroke="#222" stroke-width="1.1"/><path d="M486.5,214.5 V214.2 M482.0,214.2 H491.0" stroke="#222" stroke-width="0.9" fill="none"/><rect x="479.0" y="214.5" width="15.0" height="12.0" fill="#3B4CA8" stroke="#222" stroke-width="1.1"/><text x="420.6" y="196.5" font-size="9.5" text-anchor="middle" font-weight="bold" fill="#1a1a1a" stroke="#1a1a1a" stroke-width="0.22">*</text><text x="442.0" y="171.9" font-size="9.5" text-anchor="middle" font-weight="bold" fill="#1a1a1a" stroke="#1a1a1a" stroke-width="0.22">**</text><text x="464.0" y="183.7" font-size="9.5" text-anchor="middle" font-weight="bold" fill="#1a1a1a" stroke="#1a1a1a" stroke-width="0.22">*</text><path d="M397.7,226.5 V228.5" stroke="#222" stroke-width="1"/><text x="397.7" y="240.3" font-size="7" text-anchor="middle" font-weight="bold" fill="#1a1a1a" stroke="#1a1a1a" stroke-width="0.22">-</text><text x="397.7" y="249.2" font-size="7" text-anchor="middle" font-weight="bold" fill="#1a1a1a" stroke="#1a1a1a" stroke-width="0.22">-</text><path d="M420.6,226.5 V228.5" stroke="#222" stroke-width="1"/><text x="420.6" y="240.3" font-size="7" text-anchor="middle" font-weight="bold" fill="#1a1a1a" stroke="#1a1a1a" stroke-width="0.22">0.1</text><text x="420.6" y="249.2" font-size="7" text-anchor="middle" font-weight="bold" fill="#1a1a1a" stroke="#1a1a1a" stroke-width="0.22">-</text><path d="M442,226.5 V228.5" stroke="#222" stroke-width="1"/><text x="442.0" y="240.3" font-size="7" text-anchor="middle" font-weight="bold" fill="#1a1a1a" stroke="#1a1a1a" stroke-width="0.22">0.3</text><text x="442.0" y="249.2" font-size="7" text-anchor="middle" font-weight="bold" fill="#1a1a1a" stroke="#1a1a1a" stroke-width="0.22">-</text><path d="M464,226.5 V228.5" stroke="#222" stroke-width="1"/><text x="464.0" y="240.3" font-size="7" text-anchor="middle" font-weight="bold" fill="#1a1a1a" stroke="#1a1a1a" stroke-width="0.22">0.3</text><text x="464.0" y="249.2" font-size="7" text-anchor="middle" font-weight="bold" fill="#1a1a1a" stroke="#1a1a1a" stroke-width="0.22">1</text><path d="M486.2,226.5 V228.5" stroke="#222" stroke-width="1"/><text x="486.2" y="240.3" font-size="7" text-anchor="middle" font-weight="bold" fill="#1a1a1a" stroke="#1a1a1a" stroke-width="0.22">0.3</text><text x="486.2" y="249.2" font-size="7" text-anchor="middle" font-weight="bold" fill="#1a1a1a" stroke="#1a1a1a" stroke-width="0.22">10</text><text x="385.3" y="240.3" font-size="6.6" text-anchor="end" font-weight="bold" fill="#1a1a1a" stroke="#1a1a1a" stroke-width="0.22">LRH-1 (μg)</text><text x="385.5" y="249.2" font-size="6.4" text-anchor="end" font-weight="bold" fill="#1a1a1a" stroke="#1a1a1a" stroke-width="0.22">ML-180 (μmol/L)</text>
<text x="72.3" y="279.3" font-size="12.8" text-anchor="start" font-weight="bold" fill="#1a1a1a" stroke="#1a1a1a" stroke-width="0.22">G</text><text x="166.5" y="289.0" font-size="10.2" text-anchor="middle" font-weight="bold" fill="#1a1a1a" stroke="#1a1a1a" stroke-width="0.22">CS-FBS</text><path d="M112.3,299.3 V374.7 H227.8" fill="none" stroke="#1a1a1a" stroke-width="1.35"/><path d="M110.1,299.3 H112.3" stroke="#222" stroke-width="1"/><text x="109.8" y="301.7" font-size="7" text-anchor="end" font-weight="bold" fill="#1a1a1a" stroke="#1a1a1a" stroke-width="0.22">1.5</text><path d="M110.1,324.5 H112.3" stroke="#222" stroke-width="1"/><text x="109.8" y="326.9" font-size="7" text-anchor="end" font-weight="bold" fill="#1a1a1a" stroke="#1a1a1a" stroke-width="0.22">1.0</text><path d="M110.1,349.6 H112.3" stroke="#222" stroke-width="1"/><text x="109.8" y="352.0" font-size="7" text-anchor="end" font-weight="bold" fill="#1a1a1a" stroke="#1a1a1a" stroke-width="0.22">0.5</text><path d="M110.1,374.7 H112.3" stroke="#222" stroke-width="1"/><text x="109.8" y="377.1" font-size="7" text-anchor="end" font-weight="bold" fill="#1a1a1a" stroke="#1a1a1a" stroke-width="0.22">0.0</text><text transform="translate(88.2,334.8) rotate(-90)" font-size="7.35" text-anchor="middle" font-weight="bold" fill="#1a1a1a" stroke="#1a1a1a" stroke-width="0.22">Relative cell survival</text><text transform="translate(96.3,334.8) rotate(-90)" font-size="7.35" text-anchor="middle" font-weight="bold" fill="#1a1a1a" stroke="#1a1a1a" stroke-width="0.22">(MTT, <tspan font-style="italic">A</tspan><tspan font-size="4.5" dy="1.5">570</tspan><tspan dy="-1.5">)</tspan></text><text x="118.5" y="304.5" font-size="6.9" text-anchor="start" font-weight="bold" fill="#1a1a1a" stroke="#1a1a1a" stroke-width="0.22">VCaP</text><rect x="117.5" y="324.5" width="15.7" height="50.2" fill="#C64AB8" stroke="#222" stroke-width="1.1"/><path d="M148.0,327.0 V324.0 M143.3,324.0 H152.8" stroke="#222" stroke-width="0.9" fill="none"/><rect x="140.2" y="327.0" width="15.7" height="47.7" fill="#3B4CA8" stroke="#222" stroke-width="1.1"/><path d="M170.9,329.5 V327.0 M166.2,327.0 H175.7" stroke="#222" stroke-width="0.9" fill="none"/><rect x="163.1" y="329.5" width="15.7" height="45.2" fill="#3B4CA8" stroke="#222" stroke-width="1.1"/><path d="M193.8,336.0 V334.5 M189.1,334.5 H198.6" stroke="#222" stroke-width="0.9" fill="none"/><rect x="186.0" y="336.0" width="15.7" height="38.7" fill="#3B4CA8" stroke="#222" stroke-width="1.1"/><path d="M216.8,352.6 V352.1 M212.1,352.1 H221.6" stroke="#222" stroke-width="0.9" fill="none"/><rect x="209.0" y="352.6" width="15.7" height="22.1" fill="#3B4CA8" stroke="#222" stroke-width="1.1"/><text x="194.0" y="334.4" font-size="9.5" text-anchor="middle" font-weight="bold" fill="#1a1a1a" stroke="#1a1a1a" stroke-width="0.22">*</text><text x="217.3" y="350.8" font-size="9.5" text-anchor="middle" font-weight="bold" fill="#1a1a1a" stroke="#1a1a1a" stroke-width="0.22">**</text><path d="M125.5,374.7 V376.7" stroke="#222" stroke-width="1"/><text x="125.5" y="385.0" font-size="7" text-anchor="middle" font-weight="bold" fill="#1a1a1a" stroke="#1a1a1a" stroke-width="0.22">0</text><path d="M148,374.7 V376.7" stroke="#222" stroke-width="1"/><text x="148.0" y="385.0" font-size="7" text-anchor="middle" font-weight="bold" fill="#1a1a1a" stroke="#1a1a1a" stroke-width="0.22">0.1</text><path d="M171,374.7 V376.7" stroke="#222" stroke-width="1"/><text x="171.0" y="385.0" font-size="7" text-anchor="middle" font-weight="bold" fill="#1a1a1a" stroke="#1a1a1a" stroke-width="0.22">0.5</text><path d="M193.8,374.7 V376.7" stroke="#222" stroke-width="1"/><text x="193.8" y="385.0" font-size="7" text-anchor="middle" font-weight="bold" fill="#1a1a1a" stroke="#1a1a1a" stroke-width="0.22">1</text><path d="M216.8,374.7 V376.7" stroke="#222" stroke-width="1"/><text x="216.8" y="385.0" font-size="7" text-anchor="middle" font-weight="bold" fill="#1a1a1a" stroke="#1a1a1a" stroke-width="0.22">5</text><text x="168.5" y="396.2" font-size="7.6" text-anchor="middle" font-weight="bold" fill="#1a1a1a" stroke="#1a1a1a" stroke-width="0.22">ML-180 (μmol/L)</text>
<text x="280.6" y="279.3" font-size="12.8" text-anchor="start" font-weight="bold" fill="#1a1a1a" stroke="#1a1a1a" stroke-width="0.22">H</text><text x="375.0" y="289.0" font-size="10.2" text-anchor="middle" font-weight="bold" fill="#1a1a1a" stroke="#1a1a1a" stroke-width="0.22">CS-FBS</text><path d="M320.3,302.3 V375 H429" fill="none" stroke="#1a1a1a" stroke-width="1.35"/><path d="M318.1,302.3 H320.3" stroke="#222" stroke-width="1"/><text x="317.8" y="304.7" font-size="7" text-anchor="end" font-weight="bold" fill="#1a1a1a" stroke="#1a1a1a" stroke-width="0.22">6</text><path d="M318.1,326.5 H320.3" stroke="#222" stroke-width="1"/><text x="317.8" y="328.9" font-size="7" text-anchor="end" font-weight="bold" fill="#1a1a1a" stroke="#1a1a1a" stroke-width="0.22">4</text><path d="M318.1,350.8 H320.3" stroke="#222" stroke-width="1"/><text x="317.8" y="353.2" font-size="7" text-anchor="end" font-weight="bold" fill="#1a1a1a" stroke="#1a1a1a" stroke-width="0.22">2</text><path d="M318.1,375.0 H320.3" stroke="#222" stroke-width="1"/><text x="317.8" y="377.4" font-size="7" text-anchor="end" font-weight="bold" fill="#1a1a1a" stroke="#1a1a1a" stroke-width="0.22">0</text><text transform="translate(301.0,336.7) rotate(-90)" font-size="7.0" text-anchor="middle" font-weight="bold" fill="#1a1a1a" stroke="#1a1a1a" stroke-width="0.22">Relative cell survival</text><text transform="translate(309.0,336.7) rotate(-90)" font-size="7.0" text-anchor="middle" font-weight="bold" fill="#1a1a1a" stroke="#1a1a1a" stroke-width="0.22">(MTT, <tspan font-style="italic">A</tspan><tspan font-size="4.5" dy="1.5">570</tspan><tspan dy="-1.5">)</tspan></text><path d="M333.4,375 V377" stroke="#222" stroke-width="1"/><text x="333.4" y="384.3" font-size="7" text-anchor="middle" font-weight="bold" fill="#1a1a1a" stroke="#1a1a1a" stroke-width="0.22">1</text><path d="M361,375 V377" stroke="#222" stroke-width="1"/><text x="361.0" y="384.3" font-size="7" text-anchor="middle" font-weight="bold" fill="#1a1a1a" stroke="#1a1a1a" stroke-width="0.22">3</text><path d="M388.4,375 V377" stroke="#222" stroke-width="1"/><text x="388.4" y="384.3" font-size="7" text-anchor="middle" font-weight="bold" fill="#1a1a1a" stroke="#1a1a1a" stroke-width="0.22">5</text><path d="M415.7,375 V377" stroke="#222" stroke-width="1"/><text x="415.7" y="384.3" font-size="7" text-anchor="middle" font-weight="bold" fill="#1a1a1a" stroke="#1a1a1a" stroke-width="0.22">7</text><text x="374.5" y="393.0" font-size="7" text-anchor="middle" font-weight="bold" fill="#1a1a1a" stroke="#1a1a1a" stroke-width="0.22">Days after seeding</text><polyline points="333.4,362.9 361.0,362.9 388.4,353.2 415.7,339.9" fill="none" stroke="#8CCB55" stroke-width="1.3"/><rect x="332.0" y="361.5" width="2.8" height="2.8" fill="#8CCB55"/><rect x="359.6" y="361.5" width="2.8" height="2.8" fill="#8CCB55"/><path d="M361.0,361.7 V364.1 M359.7,361.7 h2.6 M359.7,364.1 h2.6" stroke="#8CCB55" stroke-width="0.8"/><rect x="387.0" y="351.8" width="2.8" height="2.8" fill="#8CCB55"/><path d="M388.4,352.0 V354.4 M387.1,352.0 h2.6 M387.1,354.4 h2.6" stroke="#8CCB55" stroke-width="0.8"/><rect x="414.3" y="338.5" width="2.8" height="2.8" fill="#8CCB55"/><path d="M415.7,337.4 V342.3 M414.4,337.4 h2.6 M414.4,342.3 h2.6" stroke="#8CCB55" stroke-width="0.8"/><polyline points="333.4,362.9 361.0,353.2 388.4,348.9 415.7,341.1" fill="none" stroke="#CC4FA8" stroke-width="1.3" stroke-dasharray="3,1.8"/><rect x="332.0" y="361.5" width="2.8" height="2.8" fill="#CC4FA8"/><rect x="359.6" y="351.8" width="2.8" height="2.8" fill="#CC4FA8"/><path d="M361.0,352.0 V354.4 M359.7,352.0 h2.6 M359.7,354.4 h2.6" stroke="#CC4FA8" stroke-width="0.8"/><rect x="387.0" y="347.5" width="2.8" height="2.8" fill="#CC4FA8"/><path d="M388.4,347.1 V350.8 M387.1,347.1 h2.6 M387.1,350.8 h2.6" stroke="#CC4FA8" stroke-width="0.8"/><rect x="414.3" y="339.7" width="2.8" height="2.8" fill="#CC4FA8"/><path d="M415.7,338.0 V344.1 M414.4,338.0 h2.6 M414.4,344.1 h2.6" stroke="#CC4FA8" stroke-width="0.8"/><polyline points="333.4,362.9 361.0,352.6 388.4,327.7 415.7,313.2" fill="none" stroke="#3B4CA8" stroke-width="1.3"/><rect x="332.0" y="361.5" width="2.8" height="2.8" fill="#3B4CA8"/><rect x="359.6" y="351.2" width="2.8" height="2.8" fill="#3B4CA8"/><path d="M361.0,351.4 V353.8 M359.7,351.4 h2.6 M359.7,353.8 h2.6" stroke="#3B4CA8" stroke-width="0.8"/><rect x="387.0" y="326.3" width="2.8" height="2.8" fill="#3B4CA8"/><path d="M388.4,325.9 V329.6 M387.1,325.9 h2.6 M387.1,329.6 h2.6" stroke="#3B4CA8" stroke-width="0.8"/><rect x="414.3" y="311.8" width="2.8" height="2.8" fill="#3B4CA8"/><path d="M415.7,309.6 V316.8 M414.4,309.6 h2.6 M414.4,316.8 h2.6" stroke="#3B4CA8" stroke-width="0.8"/><path d="M324,302.3 H333.5" stroke="#CC4FA8" stroke-width="1.3" stroke-dasharray="3,1.8"/><rect x="327.5" y="301.1" width="2.4" height="2.4" fill="#CC4FA8"/><text x="336.6" y="304.5" font-size="6.4" text-anchor="start" font-weight="bold" fill="#1a1a1a" stroke="#1a1a1a" stroke-width="0.22">LNCaP</text><path d="M324,309.9 H333.5" stroke="#3B4CA8" stroke-width="1.3"/><rect x="327.5" y="308.7" width="2.4" height="2.4" fill="#3B4CA8"/><text x="336.6" y="312.1" font-size="6.4" text-anchor="start" font-weight="bold" fill="#1a1a1a" stroke="#1a1a1a" stroke-width="0.22">LNCaP-BC32</text><path d="M324,317.5 H333.5" stroke="#8CCB55" stroke-width="1.3"/><rect x="327.5" y="316.3" width="2.4" height="2.4" fill="#8CCB55"/><text x="336.6" y="319.7" font-size="6.4" text-anchor="start" font-weight="bold" fill="#1a1a1a" stroke="#1a1a1a" stroke-width="0.22">LNCaP-BC32+ML-180</text>
<defs>
<radialGradient id="gland" cx="0.42" cy="0.42" r="0.65"><stop offset="0" stop-color="#F0D590"/><stop offset="0.6" stop-color="#E0B462"/><stop offset="1" stop-color="#C8953E"/></radialGradient>
<filter id="gblur" x="-20%" y="-20%" width="140%" height="140%"><feGaussianBlur stdDeviation="1.2"/></filter>
<radialGradient id="kid" cx="0.55" cy="0.45" r="0.6"><stop offset="0" stop-color="#EDA3A6"/><stop offset="1" stop-color="#CF6470"/></radialGradient>
<radialGradient id="nuc" cx="0.5" cy="0.5" r="0.55"><stop offset="0" stop-color="#D2DCF6"/><stop offset="1" stop-color="#C4D1F1"/></radialGradient>
<radialGradient id="tes" cx="0.45" cy="0.45" r="0.6"><stop offset="0" stop-color="#FBE8C8"/><stop offset="1" stop-color="#EAC48E"/></radialGradient>
<marker id="ah" viewBox="0 0 6 6" refX="5" refY="3" markerWidth="4.5" markerHeight="4.5" orient="auto"><path d="M0,0 L6,3 L0,6 z" fill="#1a1a1a"/></marker>
<marker id="ahs" viewBox="0 0 6 6" refX="5" refY="3" markerWidth="3.2" markerHeight="3.2" orient="auto"><path d="M0,0 L6,3 L0,6 z" fill="#1a1a1a"/></marker>
<marker id="ahg" viewBox="0 0 6 6" refX="5" refY="3" markerWidth="6" markerHeight="6" orient="auto"><path d="M0,0 L6,3 L0,6 z" fill="#2F8A45"/></marker>
<marker id="ahb" viewBox="0 0 6 6" refX="5" refY="3" markerWidth="5" markerHeight="5" orient="auto"><path d="M0,0 L6,3 L0,6 z" fill="#8E3A2A"/></marker>
</defs><text x="52.3" y="408.7" font-size="12.3" text-anchor="start" font-weight="bold" fill="#1a1a1a" stroke="#1a1a1a" stroke-width="0.28">I</text><path d="M60,421 H224 V445 C232,461 242,477 247,489 C243,500 238,510 233,518 C229,522 224,523 220,522 C218.5,518 217,513 215.5,508 C212,497 206,482 201.8,473 C199.5,460 196.5,447 194.7,436.8 C193,452 191.5,475 191.2,495 C191,515 190.5,530 191,545 C192,580 196,610 193,635 C191,650 189,660 187,665 H95.9 C94,655 90,638 87.8,624.8 C85.8,612 84.2,600 83.7,590 C83,577 82.2,566 82.3,558 C82.5,545 84,535 85.3,526 C86.5,505 89.5,470 88.3,436.8 C87,452 85.8,467 82.5,481 C78.5,495 70,511 59.6,525.8 Z" fill="#FCDDCA"/><path d="M139.6,598 V666" stroke="#FFF8F3" stroke-width="2"/><path d="M168,477.5 C177,475 182.5,486 181.5,498 C180.5,509 174,514 167,512.5 C161.5,511 161,505 164,500 C165.5,497.5 163.5,494 161.5,490 C159,484 162,478.5 168,477.5 Z" fill="url(#kid)"/><path d="M162,480.5 C162.5,476 168,473.5 173,474.5 C176,475.5 177,478.5 175.5,481 C172,479.5 166,479.5 162,480.5 Z" fill="#F3D46C"/><path d="M162.5,497 C159,503 159,512 156,520 C153,527 149,532 146.5,535" stroke="#F7E3DA" stroke-width="1.3" fill="none"/><path d="M127.3,540 C127.3,531.5 152.7,531.5 152.7,540 C152.7,547 146.5,552.5 140,554 C133.5,552.5 127.3,547 127.3,540 Z" fill="#EE9C88"/><path d="M129.5,539.5 C129.5,533.5 150.5,533.5 150.5,539.5 C150.5,545.5 145,550.5 140,551.5 C135,550.5 129.5,545.5 129.5,539.5 Z" fill="#F3B3A2"/><path d="M131.5,540.5 C131.5,536.5 148.5,536.5 148.5,540.5 C148.5,545.5 144,549.5 140,550.5 C136,549.5 131.5,545.5 131.5,540.5 Z" fill="#D9806E"/><path d="M129.8,558 C129.5,553 134,552.5 137.5,554 L140,555 L142.5,554 C146,552.5 150.5,553 150.2,558 C151,564 147,569.5 142,569.3 L140,568 L138,569.3 C133,569.5 129,564 129.8,558 Z" fill="#F2B73C"/><path d="M131,563 C133,568.5 137,569.5 139,568 M149,563 C147,568.5 143,569.5 141,568" stroke="#E39A2C" stroke-width="1.2" fill="none"/><path d="M140,551 V580" stroke="#D28A78" stroke-width="1.3"/><path d="M138.3,553 C138.3,557 139,558 140,559 C141,558 141.7,557 141.7,553" stroke="#E9A090" stroke-width="0.8" fill="none"/><circle cx="149.8" cy="560.3" r="2.6" fill="#8E1414"/><ellipse cx="128.2" cy="597.5" rx="4.6" ry="6" fill="url(#tes)" stroke="#E0B47C" stroke-width="0.4"/><path d="M157.6,478.8 C145,479 130,483 124,492 C121,497 120.5,501 120.4,504.8" stroke="#8E4A3A" stroke-width="0.8" fill="none"/><path d="M116,520.4 C115,532 117,545 127.3,555.5" stroke="#8E4A3A" stroke-width="0.8" fill="none" marker-end="url(#ahb)"/><path d="M116.3,570.5 L128,565.5" stroke="#8E4A3A" stroke-width="0.9" fill="none" marker-end="url(#ahb)"/><text x="121.0" y="511.2" font-size="5.5" text-anchor="middle" font-weight="bold" fill="#1a1a1a" stroke="#1a1a1a" stroke-width="0.28">DHEA</text><text x="118.1" y="518.0" font-size="5.5" text-anchor="middle" font-weight="bold" fill="#1a1a1a" stroke="#1a1a1a" stroke-width="0.28">Andronstenedione</text><text x="110.4" y="576.5" font-size="5.6" text-anchor="middle" font-weight="bold" fill="#1a1a1a" stroke="#1a1a1a" stroke-width="0.28">DHT</text><text x="109.1" y="582.5" font-size="5.6" text-anchor="middle" font-weight="bold" fill="#1a1a1a" stroke="#1a1a1a" stroke-width="0.28">Testosterone</text><text x="75.6" y="604.1" font-size="5.7" text-anchor="middle" font-weight="bold" fill="#1a1a1a" stroke="#1a1a1a" stroke-width="0.28">Castration</text><path d="M77.5,598.7 L96,586.3 M94,584 L98,588.6" stroke="#1a1a1a" stroke-width="0.9" fill="none"/><text x="104.8" y="610.1" font-size="7.2" text-anchor="middle" font-weight="bold" fill="#1a1a1a" stroke="#1a1a1a" stroke-width="0.28">Testis</text><path d="M116.3,602.2 C118,600 121,599.5 124,599 M125,595 C122,593 119.5,589 118.4,585.3" stroke="#6A5A4A" stroke-width="0.6" fill="none"/><text x="96.2" y="563.2" font-size="7.5" text-anchor="middle" font-weight="bold" fill="#1a1a1a" stroke="#1a1a1a" stroke-width="0.28">Prostate</text><path d="M111.5,560.5 H131" stroke="#444" stroke-width="1.3"/><clipPath id="glclip"><path d="M208.5,504.6 C205.9,504.9 206.7,501.5 206.7,497.7 C206.7,493.9 207.3,486.9 208.5,482.0 C209.7,477.1 211.7,472.9 213.7,468.3 C215.7,463.7 218.0,459.0 220.6,454.4 C223.2,449.8 226.3,444.2 229.2,440.6 C232.1,437.0 234.5,434.6 238.0,432.5 C241.5,430.4 245.4,428.3 250.0,427.8 C254.6,427.3 261.0,427.8 265.6,429.3 C270.2,430.9 274.2,433.5 277.7,437.1 C281.1,440.7 284.0,445.8 286.3,451.0 C288.6,456.2 290.5,463.1 291.5,468.3 C292.5,473.5 292.7,478.0 292.4,482.0 C292.1,486.0 291.7,491.2 289.8,492.5 C287.9,493.8 285.0,491.0 281.0,489.5 C277.0,488.0 270.5,484.6 265.6,483.5 C260.7,482.4 256.6,482.4 251.7,483.0 C246.8,483.6 241.0,485.1 236.1,487.3 C231.2,489.5 226.9,493.1 222.3,496.0 C217.7,498.9 211.1,504.3 208.5,504.6 Z"/></clipPath><path d="M208.5,504.6 C205.9,504.9 206.7,501.5 206.7,497.7 C206.7,493.9 207.3,486.9 208.5,482.0 C209.7,477.1 211.7,472.9 213.7,468.3 C215.7,463.7 218.0,459.0 220.6,454.4 C223.2,449.8 226.3,444.2 229.2,440.6 C232.1,437.0 234.5,434.6 238.0,432.5 C241.5,430.4 245.4,428.3 250.0,427.8 C254.6,427.3 261.0,427.8 265.6,429.3 C270.2,430.9 274.2,433.5 277.7,437.1 C281.1,440.7 284.0,445.8 286.3,451.0 C288.6,456.2 290.5,463.1 291.5,468.3 C292.5,473.5 292.7,478.0 292.4,482.0 C292.1,486.0 291.7,491.2 289.8,492.5 C287.9,493.8 285.0,491.0 281.0,489.5 C277.0,488.0 270.5,484.6 265.6,483.5 C260.7,482.4 256.6,482.4 251.7,483.0 C246.8,483.6 241.0,485.1 236.1,487.3 C231.2,489.5 226.9,493.1 222.3,496.0 C217.7,498.9 211.1,504.3 208.5,504.6 Z" fill="url(#gland)" stroke="#C0903C" stroke-width="0.6"/><g clip-path="url(#glclip)" filter="url(#gblur)" opacity="0.55"><path d="M214,500 C222,475 232,455 246,440" stroke="#F6DFA6" stroke-width="3" fill="none"/><path d="M228,492 C236,475 244,462 252,452" stroke="#F3D597" stroke-width="2.5" fill="none"/><path d="M270,470 C278,460 282,452 283,445" stroke="#F3D597" stroke-width="2.5" fill="none"/><path d="M262,438 C268,440 274,448 276,456" stroke="#F6DFA6" stroke-width="2" fill="none"/><path d="M210,503 C225,493 240,487 255,485" stroke="#B8842E" stroke-width="2" fill="none"/><path d="M288,490 C285,470 284,455 276,440" stroke="#C08C36" stroke-width="1.6" fill="none"/></g><g stroke="#1a1a1a" stroke-width="1.05" stroke-dasharray="2.8,1.9" fill="none"><path d="M166,476 L247,428"/><path d="M175,482 L207.5,507"/><path d="M151.5,559.5 L201,533"/><path d="M151,563 L163,601"/></g><ellipse cx="308" cy="589" rx="147" ry="84" fill="#DCEEDC" stroke="#3A4888" stroke-width="1.15"/><ellipse cx="381" cy="609.5" rx="60" ry="33" fill="url(#nuc)"/><path d="M247.0,461.4 C243.8,462.5 233.8,465.1 228.0,468.0 C222.2,470.9 218.1,473.4 212.0,479.0 C205.9,484.6 197.5,494.5 191.3,501.7 C185.1,508.9 179.1,515.4 174.8,522.3 C170.6,529.2 167.5,536.8 165.8,543.0 C164.1,549.2 164.3,554.7 164.8,559.5 C165.3,564.3 166.8,568.5 168.6,572.0 C170.4,575.5 174.3,578.8 175.5,580.2" stroke="#386A4E" stroke-width="0.85" fill="none" marker-end="url(#ahg)"/><path d="M241.0,481.0 C237.2,482.7 225.2,487.2 218.0,491.3 C210.8,495.4 203.0,501.0 197.5,505.8 C192.0,510.6 187.6,514.8 185.0,520.0 C182.4,525.2 181.8,531.6 182.0,536.8 C182.2,542.0 183.6,547.2 186.2,551.2 C188.8,555.2 193.3,558.5 197.5,560.5 C201.7,562.5 209.2,562.9 211.5,563.4" stroke="#386A4E" stroke-width="0.85" fill="none" marker-end="url(#ahg)"/><rect x="243.3" y="433.5" width="28.8" height="7.3" rx="1.2" fill="#F6DE6E" stroke="" stroke-width="0.6"/><text x="257.7" y="438.6" font-size="4.1" text-anchor="middle" font-weight="bold" fill="#1a1a1a" stroke="#1a1a1a" stroke-width="0.28">Cholesterol</text><rect x="250.4" y="454.2" width="15.9" height="8.1" rx="1.2" fill="#F9EA3A" stroke="" stroke-width="0.6"/><text x="258.4" y="459.8" font-size="4.3" text-anchor="middle" font-weight="bold" fill="#1a1a1a" stroke="#1a1a1a" stroke-width="0.28">DHEA</text><rect x="240.4" y="474.8" width="35.6" height="7.1" rx="1.2" fill="#F1EAF2" stroke="" stroke-width="0.6"/><text x="258.2" y="479.8" font-size="4.0" text-anchor="middle" font-weight="bold" fill="#1a1a1a" stroke="#1a1a1a" stroke-width="0.28">Andronstenedione</text><path d="M257.1,441.3 V453.3" stroke="#1a1a1a" stroke-width="0.8" marker-end="url(#ah)"/><path d="M257.1,462.8 V474" stroke="#1a1a1a" stroke-width="0.8" marker-end="url(#ah)"/><text x="258.9" y="446.1" font-size="3.9" text-anchor="start" font-weight="bold" fill="#1a1a1a" stroke="#1a1a1a" stroke-width="0.28">CYP17A1</text><text x="258.9" y="468.0" font-size="3.9" text-anchor="start" font-weight="bold" fill="#1a1a1a" stroke="#1a1a1a" stroke-width="0.28">HSD3B2</text><text x="290.0" y="434.5" font-size="4.8" text-anchor="start" font-weight="bold" fill="#1a1a1a" stroke="#1a1a1a" stroke-width="0.28">Abiraterone</text><path d="M289,435 L277.5,442.5" stroke="#1a1a1a" stroke-width="0.7"/><path d="M281,456.7 H308.4" stroke="#1a1a1a" stroke-width="1.1"/><text x="310.3" y="459.3" font-size="7.75" text-anchor="start" font-weight="bold" fill="#1a1a1a" stroke="#1a1a1a" stroke-width="0.28">Adrenal gland</text><path d="M284.6,509.5 L295.6,498.6 H323" stroke="#1a1a1a" stroke-width="1.1" fill="none"/><text x="324.0" y="501.3" font-size="7.8" text-anchor="start" font-weight="bold" fill="#1a1a1a" stroke="#1a1a1a" stroke-width="0.28">Prostate cancer cell</text><rect x="228.2" y="528.3" width="37.7" height="10.7" rx="1.2" fill="#F6CF48" stroke="#E6B040" stroke-width="0.6"/><text x="247.0" y="535.3" font-size="4.7" text-anchor="middle" font-weight="bold" fill="#1a1a1a" stroke="#1a1a1a" stroke-width="0.28">Progesterone</text><rect x="299.2" y="528" width="35.0" height="10.8" rx="1.2" fill="#F4A878" stroke="#E69468" stroke-width="0.6"/><text x="316.7" y="535.1" font-size="4.6" text-anchor="middle" font-weight="bold" fill="#1a1a1a" stroke="#1a1a1a" stroke-width="0.28">Pregnenolone</text><rect x="366.5" y="528.7" width="36.9" height="9.6" rx="1.2" fill="#F8DB7A" stroke="#EEC868" stroke-width="0.6"/><text x="384.9" y="535.2" font-size="4.6" text-anchor="middle" font-weight="bold" fill="#1a1a1a" stroke="#1a1a1a" stroke-width="0.28">Cholesterol</text><rect x="411.1" y="510.6" width="37.8" height="10.4" rx="1.2" fill="#F9DB7A" stroke="#EEC868" stroke-width="0.6"/><text x="430.0" y="517.5" font-size="4.6" text-anchor="middle" font-weight="bold" fill="#1a1a1a" stroke="#1a1a1a" stroke-width="0.28">Cholesterol</text><rect x="407.3" y="549.5" width="26.0" height="10.4" rx="1.2" fill="#EE9440" stroke="#DD8030" stroke-width="0.6"/><text x="420.3" y="556.4" font-size="4.6" text-anchor="middle" font-weight="bold" fill="#1a1a1a" stroke="#1a1a1a" stroke-width="0.28">Acetate</text><rect x="222.2" y="561.5" width="47.8" height="8.5" rx="1.2" fill="#F3DFE8" stroke="" stroke-width="0.6"/><text x="246.1" y="567.4" font-size="4.5" text-anchor="middle" font-weight="bold" fill="#1a1a1a" stroke="#1a1a1a" stroke-width="0.28">Andronstenedione</text><rect x="185" y="580.9" width="21.6" height="10.7" rx="1.2" fill="#F9E43A" stroke="" stroke-width="0.6"/><text x="195.8" y="588.0" font-size="4.8" text-anchor="middle" font-weight="bold" fill="#1a1a1a" stroke="#1a1a1a" stroke-width="0.28">DHEA</text><rect x="229" y="594.5" width="37.7" height="9.2" rx="1.2" fill="#FCEDD6" stroke="" stroke-width="0.6"/><text x="247.8" y="600.8" font-size="4.6" text-anchor="middle" font-weight="bold" fill="#1a1a1a" stroke="#1a1a1a" stroke-width="0.28">Testosterone</text><rect x="229" y="628" width="37.7" height="10.2" rx="1.2" fill="#DEA5CC" stroke="" stroke-width="0.6"/><text x="247.8" y="634.8" font-size="4.8" text-anchor="middle" font-weight="bold" fill="#1a1a1a" stroke="#1a1a1a" stroke-width="0.28">DHT</text><g stroke="#1a1a1a" stroke-width="1.15" fill="none"><path d="M247,539.5 V560.5" marker-end="url(#ah)"/><path d="M247,570.5 V593.5" marker-end="url(#ah)"/><path d="M247,604 V627" marker-end="url(#ah)"/><path d="M297.9,533.5 H267.5" marker-end="url(#ah)"/><path d="M366,533.5 H336" marker-end="url(#ah)"/><path d="M409.4,517.5 C404,519 399,522 395.6,527" marker-end="url(#ah)"/><path d="M418.9,547.8 C418,542 414,537 408.5,534" marker-end="url(#ah)"/><path d="M207,581 C213,580 217,577 220.5,572.5" marker-end="url(#ah)"/><path d="M269.9,633.8 H294" marker-end="url(#ah)"/><path d="M269.9,636.3 H286"/><path d="M263.8,645.3 C268,639 276,636.3 287,636" marker-end="url(#ah)"/><path d="M309,621 C314,612 325,607.5 339,608.8" marker-end="url(#ah)"/><path d="M303.3,586 L312.2,575.8" marker-end="url(#ah)"/><path d="M353,567.1 H335.6 M335.6,564.3 V569.9"/><path d="M216,543.5 L223.3,548.1 M221.6,545.2 L219.4,549.8"/><path d="M381.5,619 V612.8 H391.8" marker-end="url(#ahs)"/></g><g stroke="#D9503F" stroke-width="1.4" stroke-dasharray="3.6,2.2" fill="none"><path d="M307.5,562.5 C290,559 268,555 249,551"/><path d="M309,558 C300,553 292,548 288.5,543"/><path d="M322,554 C327,547 331,540 334,535 C337,532 341,530.5 344,530"/><path d="M327,557 C337,552 345,548 350.5,542.5"/><path d="M307.5,569 C292,577 270,582 247.5,583 C232,583 220,580 211,575.5"/></g><g stroke="#D9503F" stroke-width="0.8" fill="none"><circle cx="247.5" cy="550.5" r="1.3"/><circle cx="288.5" cy="542.3" r="1.3"/><circle cx="344.5" cy="530" r="1.3"/><circle cx="351" cy="542" r="1.3"/><circle cx="210" cy="575" r="1.3"/></g><polygon points="332.9,565.4 327.1,566.3 330.8,569.7 325.0,568.6 326.0,572.8 321.6,570.0 319.8,574.0 317.7,570.0 313.5,573.0 314.3,568.8 308.6,570.0 312.0,566.6 306.1,565.8 311.4,563.8 306.8,561.2 312.7,561.2 310.3,557.3 315.6,559.4 316.0,555.1 319.3,558.6 322.5,555.0 323.1,559.2 328.2,557.1 326.1,561.0 332.0,560.8 327.5,563.6" fill="#EE2B1C"/><text x="319.5" y="566.2" font-size="4.4" text-anchor="middle" font-weight="bold" fill="#FCE0D8" stroke="#FCE0D8" stroke-width="0.28">LRH-1</text><text x="198.5" y="541.7" font-size="4.8" text-anchor="start" font-weight="bold" fill="#1a1a1a" stroke="#1a1a1a" stroke-width="0.28">Abiraterone</text><text x="222.5" y="551.8" font-size="4.7" text-anchor="start" font-weight="bold" font-style="italic" fill="#1a1a1a" stroke="#1a1a1a" stroke-width="0.28">CYP17A1</text><text x="195.3" y="574.0" font-size="4.7" text-anchor="start" font-weight="bold" font-style="italic" fill="#1a1a1a" stroke="#1a1a1a" stroke-width="0.28">HSD3B2</text><text x="225.0" y="578.6" font-size="4.7" text-anchor="start" font-weight="bold" font-style="italic" fill="#1a1a1a" stroke="#1a1a1a" stroke-width="0.28">AKR1C3</text><text x="221.4" y="587.8" font-size="4.7" text-anchor="start" font-weight="bold" font-style="italic" fill="#1a1a1a" stroke="#1a1a1a" stroke-width="0.28">HSD17B3</text><text x="225.7" y="613.0" font-size="4.7" text-anchor="start" font-weight="bold" font-style="italic" fill="#1a1a1a" stroke="#1a1a1a" stroke-width="0.28">SRD5A1</text><text x="225.7" y="619.8" font-size="4.7" text-anchor="start" font-weight="bold" font-style="italic" fill="#1a1a1a" stroke="#1a1a1a" stroke-width="0.28">SRD5A2</text><text x="275.0" y="531.1" font-size="4.7" text-anchor="start" font-weight="bold" font-style="italic" fill="#1a1a1a" stroke="#1a1a1a" stroke-width="0.28">HSD3B1</text><text x="275.0" y="539.2" font-size="4.7" text-anchor="start" font-weight="bold" font-style="italic" fill="#1a1a1a" stroke="#1a1a1a" stroke-width="0.28">HSD3B2</text><text x="346.4" y="531.1" font-size="4.7" text-anchor="start" font-weight="bold" font-style="italic" fill="#1a1a1a" stroke="#1a1a1a" stroke-width="0.28">StAR</text><text x="342.9" y="540.0" font-size="4.7" text-anchor="start" font-weight="bold" font-style="italic" fill="#1a1a1a" stroke="#1a1a1a" stroke-width="0.28">CYP11A1</text><text x="355.8" y="568.8" font-size="4.8" text-anchor="start" font-weight="bold" fill="#1a1a1a" stroke="#1a1a1a" stroke-width="0.28">ML-180</text><text x="289.8" y="592.3" font-size="4.8" text-anchor="start" font-weight="bold" fill="#1a1a1a" stroke="#1a1a1a" stroke-width="0.28">RJW100</text><text x="398.8" y="592.2" font-size="7.5" text-anchor="middle" font-weight="bold" fill="#1c2040" stroke="#1c2040" stroke-width="0.28">Nucleus</text><text x="325.0" y="659.5" font-size="7.5" text-anchor="middle" font-weight="bold" fill="#1a1a1a" stroke="#1a1a1a" stroke-width="0.28">Cytoplasm</text><text x="398.0" y="609.7" font-size="4.9" text-anchor="start" font-weight="bold" fill="#1c2450" stroke="#1c2450" stroke-width="0.28">Proliferation</text><text x="398.0" y="615.5" font-size="4.9" text-anchor="start" font-weight="bold" fill="#1c2450" stroke="#1c2450" stroke-width="0.28">survival</text><text x="398.0" y="621.7" font-size="4.9" text-anchor="start" font-weight="bold" fill="#1c2450" stroke="#1c2450" stroke-width="0.28">PSA</text><g stroke="#1c2450" stroke-width="0.7" fill="none"><path d="M430.3,611 V605 M429.1,606.4 L430.3,605 L431.5,606.4"/><path d="M420.2,616.5 V610.3 M419,611.7 L420.2,610.3 L421.4,611.7"/><path d="M410.8,622.5 V615.8 M409.6,617.2 L410.8,615.8 L412,617.2"/></g><path d="M298.8,629.1 L304.1,633.3 L309.3,629.1 V640.6 H298.8 Z" fill="#4C8CCB"/><text x="304.1" y="639.0" font-size="4.2" text-anchor="middle" font-weight="bold" fill="#E8F2FF" stroke="#E8F2FF" stroke-width="0.28">AR</text><path d="M304.1,623.9 L308.9,628.8 L304.1,633.6 L299.2,628.8 Z" fill="#EAA2C6" stroke="#C98AAE" stroke-width="0.4"/><path d="M345.1,602.8 L350.5,606.8 L355.8,602.8 V613.6 H345.1 Z" fill="#4C8CCB"/><text x="350.5" y="612.0" font-size="4.2" text-anchor="middle" font-weight="bold" fill="#E8F2FF" stroke="#E8F2FF" stroke-width="0.28">AR</text><path d="M350.5,597.3 L355.4,602.2 L350.5,607.1 L345.5,602.2 Z" fill="#EAA2C6" stroke="#C98AAE" stroke-width="0.4"/><path d="M356.9,602.8 L362.4,606.8 L368.0,602.8 V613.6 H356.9 Z" fill="#4C8CCB"/><text x="362.4" y="612.0" font-size="4.2" text-anchor="middle" font-weight="bold" fill="#E8F2FF" stroke="#E8F2FF" stroke-width="0.28">AR</text><path d="M362.4,596.9 L367.6,602.0 L362.4,607.1 L357.3,602.0 Z" fill="#EAA2C6" stroke="#C98AAE" stroke-width="0.4"/><path d="M250.7,645.3 L256.2,649.3 L261.8,645.3 V656.0 H250.7 Z" fill="#4C8CCB"/><text x="256.2" y="654.4" font-size="4.2" text-anchor="middle" font-weight="bold" fill="#E8F2FF" stroke="#E8F2FF" stroke-width="0.28">AR</text><path d="M336,620 c1.5,-4.5 3,4.5 4.5,0 s3,4.5 4.5,0 M366.3,620 c1.7,-4.5 3.4,4.5 5,0 s3.4,4.5 5,0 s3.4,4.5 5,0 s3,4 4.7,0" stroke="#2A2A3A" stroke-width="1" fill="none"/><path d="M336,620 c1.5,4.5 3,-4.5 4.5,0 s3,-4.5 4.5,0 M366.3,620 c1.7,4.5 3.4,-4.5 5,0 s3.4,-4.5 5,0 s3.4,-4.5 5,0 s3,-4 4.7,0" stroke="#8A8A9A" stroke-width="0.8" fill="none"/><path d="M338,617.5 v5 M341,617 v6 M344,617.5 v5 M369,617.5 v5 M373,617 v6 M377,617.5 v5 M381,617 v6 M384.5,617.5 v5" stroke="#9A9AAA" stroke-width="0.4"/><rect x="347.5" y="614.2" width="16.8" height="8.8" rx="1" fill="#F8E630" stroke="#1a1a1a" stroke-width="0.9"/><text x="355.9" y="620.1" font-size="4.2" text-anchor="middle" font-weight="bold" fill="#1a1a1a" stroke="#1a1a1a" stroke-width="0.28">ARE</text>
</svg>
</body></html>
